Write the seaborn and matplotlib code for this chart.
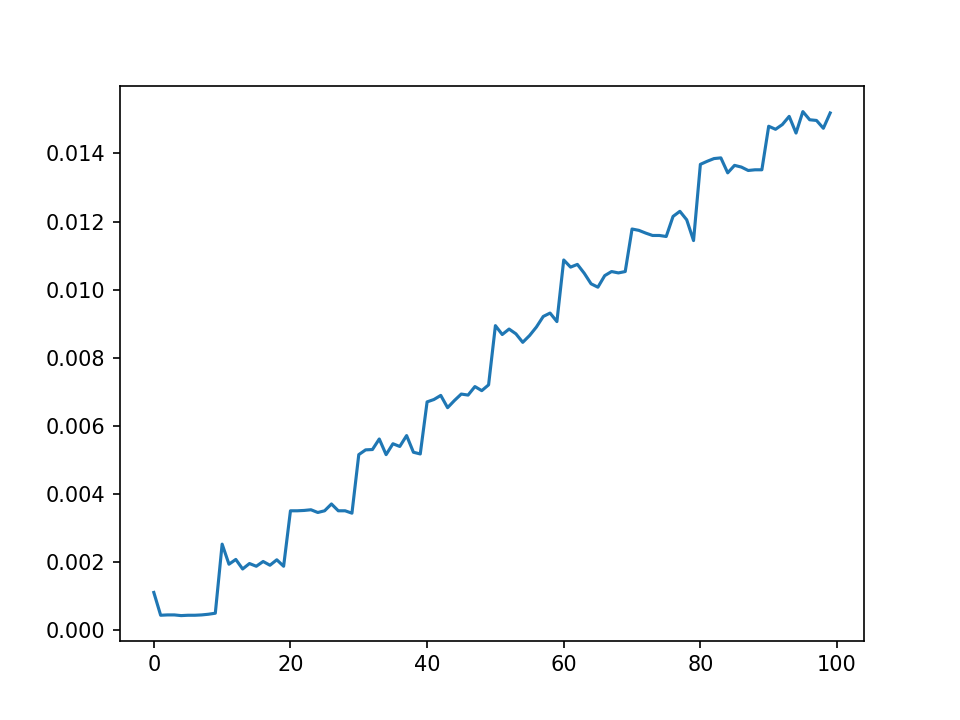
import numpy as np
import pandas as pd
import seaborn as sns
import matplotlib
matplotlib.use("Agg")
import matplotlib.pyplot as plt

# --- values, one per step (0..99) ---
steps = list(range(100))
values = [
    0.00110, 0.00043, 0.00044, 0.00044, 0.00042, 0.00043, 0.00043, 0.00044, 0.00046, 0.00049,
    0.00252, 0.00193, 0.00207, 0.00179, 0.00195, 0.00187, 0.00201, 0.00190, 0.00206, 0.00187,
    0.00350, 0.00350, 0.00351, 0.00353, 0.00345, 0.00350, 0.00370, 0.00350, 0.00350, 0.00343,
    0.00515, 0.00529, 0.00530, 0.00561, 0.00515, 0.00547, 0.00539, 0.00571, 0.00522, 0.00517,
    0.00670, 0.00677, 0.00689, 0.00653, 0.00674, 0.00693, 0.00690, 0.00715, 0.00703, 0.00720,
    0.00894, 0.00868, 0.00884, 0.00870, 0.00845, 0.00865, 0.00890, 0.00921, 0.00931, 0.00906,
    0.01087, 0.01066, 0.01074, 0.01048, 0.01017, 0.01007, 0.01041, 0.01053, 0.01049, 0.01053,
    0.01178, 0.01174, 0.01166, 0.01159, 0.01159, 0.01156, 0.01215, 0.01230, 0.01205, 0.01144,
    0.01368, 0.01377, 0.01385, 0.01387, 0.01343, 0.01365, 0.01360, 0.01350, 0.01352, 0.01352,
    0.01480, 0.01471, 0.01485, 0.01509, 0.01460, 0.01523, 0.01499, 0.01497, 0.01474, 0.01519,
]

df = pd.DataFrame({"step": steps, "value": values})

fig, ax = plt.subplots(figsize=(6.4, 4.8), dpi=150)
sns.lineplot(data=df, x="step", y="value", ax=ax, color="#1f77b4", linewidth=1.5)
ax.set_xlabel("")
ax.set_ylabel("")
ax.set_xticks([0, 20, 40, 60, 80, 100])

plt.savefig("out.png", dpi=150)
